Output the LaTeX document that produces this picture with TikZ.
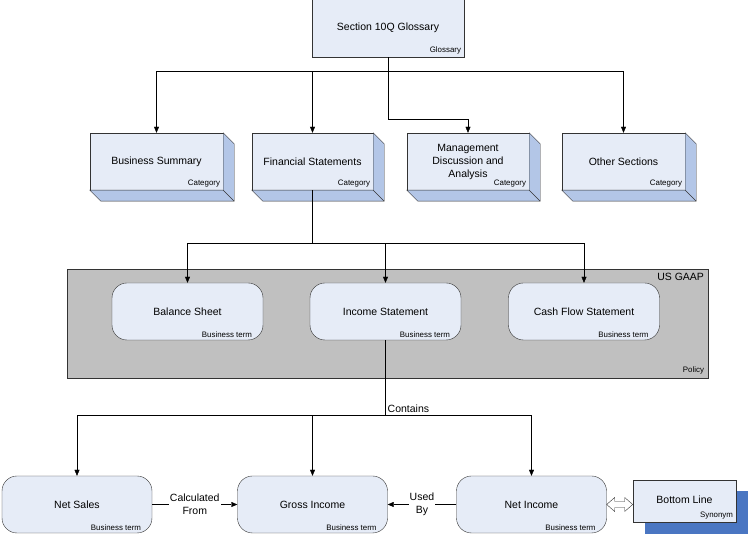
\documentclass[tikz,border=0pt]{standalone}
\usepackage{fontspec}
\setmainfont{Liberation Sans}
\usetikzlibrary{arrows.meta}

\definecolor{frontblue}{HTML}{E6ECF7}
\definecolor{sideblue}{HTML}{B3C6E7}
\definecolor{policygray}{HTML}{C0C0C0}
\definecolor{synblue}{HTML}{4A76C2}
\definecolor{edgegray}{HTML}{333333}

\begin{document}
\begin{tikzpicture}[x=1pt,y=1pt,
    every node/.style={font=\fontsize{10.5}{13}\selectfont},
    tag/.style={font=\fontsize{7.9}{9}\selectfont, anchor=south east, inner sep=2pt},
    glossbox/.style={draw=edgegray, fill=frontblue, minimum width=152pt, minimum height=59pt},
    catbox/.style={draw=edgegray, fill=frontblue, minimum height=57pt, align=center, inner sep=0pt},
    termbox/.style={draw=edgegray, fill=frontblue, rounded corners=15pt, minimum width=151pt, minimum height=57pt},
    side/.style={fill=sideblue, draw=edgegray},
    arr/.style={draw=black, -{Triangle[length=6pt,width=5pt]}}]
    \useasboundingbox (0,0) rectangle (748,534);

    % glossary
    \node[glossbox, label={[tag, inner sep=3pt]south east:Glossary}] (gloss) at (388,506.5) {Section 10Q Glossary};

    % categories (3d boxes)
    \node[catbox, minimum width=133pt, label={[tag, inner sep=3pt]south east:Category}] (bsum) at (156.5,372.5) {Business Summary};
    \node[catbox, minimum width=121pt, label={[tag, inner sep=3pt]south east:Category}] (fin) at (312.5,372.5) {Financial Statements};
    \node[catbox, minimum width=122pt, label={[tag, inner sep=3pt]south east:Category}] (mda) at (468,372.5) {Management\\Discussion and\\Analysis};
    \node[catbox, minimum width=123pt, label={[tag, inner sep=3pt]south east:Category}] (oth) at (623.5,372.5) {Other Sections};
    \foreach \n in {bsum,fin,mda,oth}{
        \filldraw[side] (\n.north east) -- ++(11,-11) |- ([shift={(11,-11)}]\n.south west) -- (\n.south west) -- (\n.south east) -- cycle;
        \draw[edgegray] (\n.south east) -- ++(11,-11); % edge of depth
    }

    \draw[arr] (gloss.south) -- ++(0,-14) -| (bsum.north);
    \draw[arr] (gloss.south) -- ++(0,-14) -| (fin.north);
    \draw[arr] (gloss.south) -- ++(0,-14) -| (oth.north);
    \draw[arr] (gloss.south) |- ([yshift=14pt]mda.north) -- (mda.north);

    % policy
    \node[draw=edgegray, fill=policygray, minimum width=641pt, minimum height=109pt,
        label={[anchor=north east, inner sep=4pt]north east:US GAAP},
        label={[tag, inner sep=4pt]south east:Policy}] (gaap) at (387.5,210.5) {};
    \node[termbox, label={[tag, xshift=-9pt]south east:Business term}] (bs) at (187.5,222.5) {Balance Sheet};
    \node[termbox, label={[tag, xshift=-9pt]south east:Business term}] (inc) at (385.5,222.5) {Income Statement};
    \node[termbox, label={[tag, xshift=-9pt]south east:Business term}] (cf) at (584,222.5) {Cash Flow Statement};

    \draw[arr] (fin.south) -- ++(0,-53) -| (bs.north);
    \draw[arr] (fin.south) -- ++(0,-53) -| (inc.north);
    \draw[arr] (fin.south) -- ++(0,-53) -| (cf.north);

    % business terms
    \node[termbox, minimum width=150pt, label={[tag, xshift=-9pt]south east:Business term}] (ns) at (77,29.5) {Net Sales};
    \node[termbox, minimum width=150pt, label={[tag, xshift=-9pt]south east:Business term}] (gi) at (312.5,29.5) {Gross Income};
    \node[termbox, minimum width=150pt, label={[tag, xshift=-9pt]south east:Business term}] (ni) at (531.5,29.5) {Net Income};

    \draw (inc.south) -- ++(0,-75) coordinate (cbus) node[anchor=south west, inner sep=2pt] {Contains};
    \draw[arr] (cbus) -| (ns.north);
    \draw[arr] (cbus) -| (gi.north);
    \draw[arr] (cbus) -| (ni.north);

    \draw[arr] (ns.east) -- node[fill=white, align=center, inner sep=1pt] {Calculated\\From} (gi.west);
    \draw[arr] (ni.west) -- node[fill=white, align=center, inner sep=1pt] {Used\\By} (gi.east);

    % synonym
    \fill[synblue] (645,-2) rectangle (750,43); % shadow block
    \node[draw=edgegray, fill=frontblue, minimum width=103pt, minimum height=42pt,
        label={[tag, inner sep=3pt]south east:Synonym}] (bl) at (684.5,33) {\raisebox{3pt}{Bottom Line}};
    \filldraw[fill=white, draw=edgegray] (ni.east) -- ++(8,7) -- ++(0,-4) -- ++(10,0) -- ++(0,4) -- ++(8,-7)
        -- ++(-8,-7) -- ++(0,4) -- ++(-10,0) -- ++(0,-4) -- cycle; % hollow double arrow
\end{tikzpicture}
\end{document}
